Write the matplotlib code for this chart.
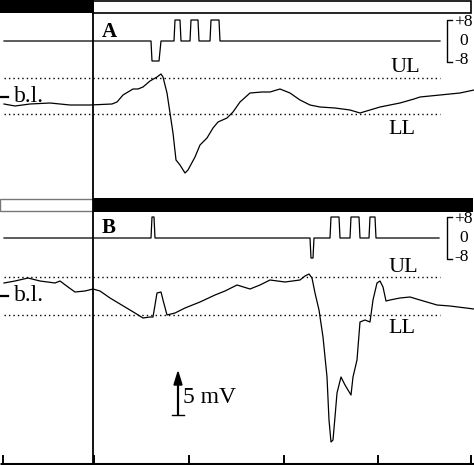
import matplotlib
matplotlib.use("Agg")
import matplotlib.pyplot as plt
from matplotlib.patches import Rectangle, FancyArrow

# ---------------- data (figure units: x = time position, y = vertical position) ----------
tick_x = [3, 94, 189, 284, 378, 471]
stim_onset_x = 93

# Panel A response trace
trace_a_x = [4, 15, 30, 50, 70, 90, 112, 117, 123, 133, 138, 143, 150, 157, 161, 163, 167, 170,
             173, 176, 180, 185, 188, 195, 200, 207, 213, 218, 227, 233, 240, 250, 262, 270, 280,
             290, 300, 310, 320, 335, 350, 360, 370, 380, 400, 414, 420, 440, 460, 474]
trace_a_y = [104, 106, 104, 103, 105, 105, 104, 102, 95, 89, 89, 87, 81, 77, 74, 77, 93, 113,
             133, 160, 165, 173, 170, 157, 145, 138, 128, 122, 118, 112, 102, 93, 92, 92, 89,
             93, 100, 105, 107, 108, 110, 113, 110, 107, 103, 99, 97, 95, 93, 90]

# Panel B response trace
trace_b_x = [4, 15, 28, 40, 55, 60, 68, 75, 85, 93, 100, 110, 125, 135, 143, 150, 153, 157, 161,
             163, 167, 175, 185, 200, 215, 225, 237, 250, 260, 270, 285, 300, 305, 309, 312, 315,
             319, 323, 327, 329, 331, 333, 335, 337, 341, 345, 351, 353, 357, 360, 365, 370, 373,
             377, 380, 383, 386, 390, 400, 410, 420, 437, 450, 474]
trace_b_y = [283, 281, 278, 281, 283, 281, 287, 292, 291, 289, 291, 298, 307, 313, 318, 317, 317,
             293, 292, 300, 315, 313, 308, 302, 295, 291, 285, 289, 285, 280, 282, 280, 276, 274,
             278, 293, 310, 337, 377, 420, 442, 440, 417, 393, 377, 385, 395, 377, 360, 322, 320,
             322, 300, 283, 281, 287, 301, 300, 298, 297, 300, 305, 306, 309]

# Stimulus traces
stim_a_x = [4, 151, 152, 159, 161, 174, 175, 180, 181, 190, 191, 198, 199, 210, 211, 219, 220, 440]
stim_a_y = [41, 41, 61, 61, 41, 41, 20, 20, 41, 41, 20, 20, 41, 41, 20, 20, 41, 41]
stim_b_x = [4, 151, 152, 154, 155, 310, 311, 313, 314, 330, 331, 339, 340, 350, 351, 359, 360,
            369, 370, 375, 376, 439]
stim_b_y = [238, 238, 217, 217, 238, 238, 258, 258, 238, 238, 217, 217, 238, 238, 217, 217, 238,
            238, 217, 217, 238, 238]

# Limits and baselines (y positions)
ul_a, ll_a, bl_a = 78, 114, 97
ul_b, ll_b, bl_b = 277, 315, 296
stim_scale_labels = ["+8", "0", "-8"]

# ---------------- figure ----------------
fig = plt.figure(figsize=(4.74, 4.65), dpi=100)
ax = fig.add_axes([0, 0, 1, 1])
ax.set_xlim(0, 474)
ax.set_ylim(465, 0)
ax.axis("off")

serif = ["Liberation Serif", "DejaVu Serif"]

# condition bars
ax.add_patch(Rectangle((0, 0), stim_onset_x, 13, facecolor="black", edgecolor="black", lw=0))
ax.add_patch(Rectangle((stim_onset_x, 1), 378, 12, facecolor="white", edgecolor="black", lw=1.2))
ax.add_patch(Rectangle((0, 199), stim_onset_x, 12, facecolor="white", edgecolor="#777777", lw=1.0))
ax.add_patch(Rectangle((stim_onset_x, 198), 380, 14, facecolor="black", edgecolor="black", lw=0))

# onset line and time axis
ax.plot([stim_onset_x, stim_onset_x], [0, 463], color="black", lw=1.3)
ax.plot([0, 474], [463.5, 463.5], color="black", lw=2.2, solid_capstyle="butt")
for tx in tick_x:
    ax.plot([tx, tx], [456, 463], color="black", lw=1.4)

# threshold lines
for y in (ul_a, ll_a, ul_b, ll_b):
    ax.plot([4, 440], [y, y], color="black", lw=1.0, linestyle=(0, (1, 2.2)))

# traces
ax.plot(trace_a_x, trace_a_y, color="black", lw=0.9)
ax.plot(trace_b_x, trace_b_y, color="black", lw=0.9)
ax.plot(stim_a_x, stim_a_y, color="black", lw=0.9)
ax.plot(stim_b_x, stim_b_y, color="black", lw=0.9)

# panel labels
ax.text(102, 32, "A", fontsize=15, fontweight="bold", family=serif, va="center", ha="left")
ax.text(102, 228, "B", fontsize=15, fontweight="bold", family=serif, va="center", ha="left")

# UL / LL labels
ax.text(391, 68, "UL", fontsize=16, family=serif, va="center", ha="left")
ax.text(388, 129, "LL", fontsize=16, family=serif, va="center", ha="left")
ax.text(389, 267, "UL", fontsize=16, family=serif, va="center", ha="left")
ax.text(388, 328, "LL", fontsize=16, family=serif, va="center", ha="left")

# baseline labels
for y in (bl_a, bl_b):
    ax.plot([1, 8], [y, y], color="black", lw=1.6)
    ax.text(14, y - 1, "b.l.", fontsize=17, family=serif, va="center", ha="left")

# stimulus scale brackets
for top, mid, bot in ((20, 41, 62), (217, 238, 259)):
    ax.plot([452, 447, 447, 452], [top, top, bot, bot], color="black", lw=1.0)
    for lab, yy in zip(stim_scale_labels, (top + 2, mid, bot - 2)):
        xx = 459 if lab == "0" else 454
        ax.text(xx, yy, lab, fontsize=12.5, family=serif, va="center", ha="left")

# 5 mV scale bar
ax.add_patch(FancyArrow(178, 415, 0, -43, width=0.8, head_width=8, head_length=13,
                        length_includes_head=True, color="black"))
ax.plot([172, 184], [415, 415], color="black", lw=1.0)
ax.text(183, 397, "5 mV", fontsize=17, family=serif, va="center", ha="left")

fig.savefig("out.png", dpi=100)
